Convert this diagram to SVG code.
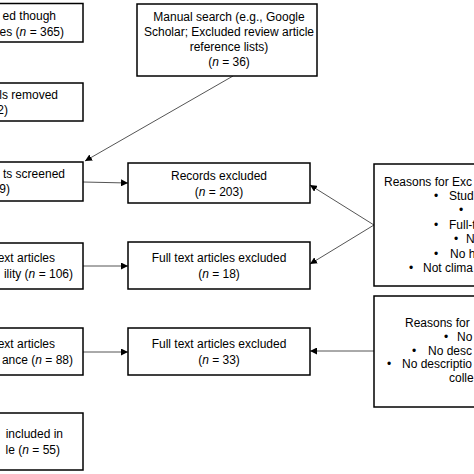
<svg xmlns="http://www.w3.org/2000/svg" width="474" height="474" viewBox="0 0 474 474">
<style>
.box{fill:#fff;stroke:#000;stroke-width:1.5}
text{font-family:"Liberation Sans",Arial,sans-serif;font-size:12px;fill:#000}
.c{text-anchor:middle}
.e{text-anchor:end}
.ln{stroke:#555;stroke-width:1;fill:none;marker-end:url(#ah)}
</style>
<defs>
<marker id="ah" viewBox="0 0 10 10" refX="10" refY="5" markerWidth="7" markerHeight="7" markerUnits="userSpaceOnUse" orient="auto">
<path d="M0,0 L10,5 L0,10 z" fill="#000"/>
</marker>
</defs>
<rect width="474" height="474" fill="#fff"/>
<g id="connectors">
<line class="ln" x1="233" y1="76" x2="85" y2="161"/>
<line class="ln" x1="83" y1="182" x2="128" y2="183"/>
<line class="ln" x1="83" y1="266" x2="128" y2="266"/>
<line class="ln" x1="83" y1="352" x2="128" y2="352"/>
<line class="ln" x1="374" y1="225" x2="310" y2="185"/>
<line class="ln" x1="374" y1="225" x2="310" y2="264"/>
<line class="ln" x1="374" y1="351" x2="310" y2="351"/>
</g>
<g id="identified">
<rect class="box" x="-100" y="3.5" width="183" height="38.5"/>
<text class="e" x="56" y="20">ed though</text>
<text class="e" x="64" y="36">es (<tspan font-style="italic">n</tspan> = 365)</text>
</g>
<g id="manual">
<rect class="box" x="137" y="4" width="180" height="72"/>
<text class="c" x="229" y="21">Manual search (e.g., Google</text>
<text class="c" x="229" y="36">Scholar; Excluded review article</text>
<text class="c" x="229" y="51">reference lists)</text>
<text class="c" x="229" y="66">(<tspan font-style="italic">n</tspan> = 36)</text>
</g>
<g id="duplicates">
<rect class="box" x="-100" y="83" width="183" height="38"/>
<text class="e" x="58" y="99">ls removed</text>
<text class="e" x="8" y="114">2)</text>
</g>
<g id="screened">
<rect class="box" x="-100" y="162" width="183" height="39"/>
<text class="e" x="65" y="178">ts screened</text>
<text class="e" x="10" y="193">9)</text>
</g>
<g id="records-excluded">
<rect class="box" x="128" y="163" width="182" height="40"/>
<text class="c" x="219" y="180">Records excluded</text>
<text class="c" x="219" y="196">(<tspan font-style="italic">n</tspan> = 203)</text>
</g>
<g id="reasons1">
<rect class="box" x="374" y="164" width="150" height="122"/>
<text x="384" y="186">Reasons for Exc</text>
<text x="434" y="200">•</text><text x="449" y="200">Stud</text>
<text x="459" y="214">•</text>
<text x="434" y="229">•</text><text x="449" y="229">Full-t</text>
<text x="454" y="243">•</text><text x="466" y="243">N</text>
<text x="434" y="258">•</text><text x="450" y="258">No h</text>
<text x="409" y="272">•</text><text x="423" y="272">Not clima</text>
</g>
<g id="eligibility">
<rect class="box" x="-100" y="243" width="183" height="46"/>
<text class="e" x="55" y="262">ext articles</text>
<text class="e" x="73" y="278">ility  (<tspan font-style="italic">n</tspan> = 106)</text>
</g>
<g id="ft-excluded-18">
<rect class="box" x="128" y="242" width="182" height="47"/>
<text class="c" x="219" y="262">Full text articles excluded</text>
<text class="c" x="219" y="278">(<tspan font-style="italic">n</tspan> = 18)</text>
</g>
<g id="relevance">
<rect class="box" x="-100" y="328" width="183" height="47"/>
<text class="e" x="55" y="348">ext articles</text>
<text class="e" x="73" y="364">ance (<tspan font-style="italic">n</tspan> = 88)</text>
</g>
<g id="ft-excluded-33">
<rect class="box" x="128" y="328" width="182" height="47"/>
<text class="c" x="219" y="348">Full text articles excluded</text>
<text class="c" x="219" y="364">(<tspan font-style="italic">n</tspan> = 33)</text>
</g>
<g id="reasons2">
<rect class="box" x="374" y="296" width="150" height="111"/>
<text x="405" y="327">Reasons for</text>
<text x="444" y="341">•</text><text x="457" y="341">No</text>
<text x="412" y="355">•</text><text x="428" y="355">No desc</text>
<text x="387" y="368">•</text><text x="402" y="368">No descriptio</text>
<text x="449" y="382">colle</text>
</g>
<g id="included">
<rect class="box" x="-100" y="413" width="183" height="57"/>
<text class="e" x="63" y="438">included in</text>
<text class="e" x="60" y="454">le (<tspan font-style="italic">n</tspan> = 55)</text>
</g>
</svg>
